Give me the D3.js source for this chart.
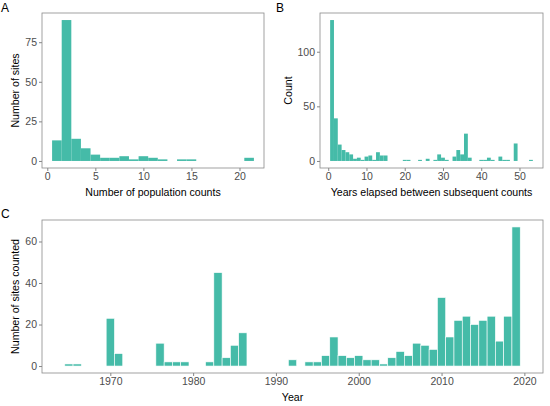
<!DOCTYPE html>
<html><head><meta charset="utf-8">
<script src="https://cdn.jsdelivr.net/npm/d3@7"></script>
<style>body{margin:0;background:#fff}svg{display:block}text{font-family:"Liberation Sans",Arial,sans-serif}</style>
</head><body><svg id="c" width="550" height="406"></svg>
<script>
// Panel A: number of population counts per site
const popCounts = [1,2,3,4,5,6,7,8,9,10,11,12,13,14,15,16,17,18,19,20,21];
const sitesPerCount = [13,89,14,8,4,2,2,3,1,3,2,1,0,1,1,0,0,0,0,0,2];
const ticksA_x = [0,5,10,15,20];
const ticksA_y = [0,25,50,75];
// Panel B: years elapsed between subsequent counts
const yearsElapsed = d3.range(1,54);
const elapsedCount = [129,39,15,10,8,6,2,3,1,4,5,1,8,5,5,0,0,0,0,1,1,0,0,1,0,2,0,1,6,3,1,0,4,10,6,25,3,0,0,1,1,3,1,0,4,1,1,0,16,0,0,0,1];
const ticksB_x = [0,10,20,30,40,50];
const ticksB_y = [0,50,100];
// Panel C: number of sites counted per year
const years = [1965,1966,1970,1971,1976,1977,1978,1979,1982,1983,1984,1985,1986,1992,1994,1995,1996,1997,1998,1999,2000,2001,2002,2003,2004,2005,2006,2007,2008,2009,2010,2011,2012,2013,2014,2015,2016,2017,2018,2019];
const sitesCounted = [1,1,23,6,11,2,2,2,2,45,4,10,16,3,2,2,5,14,5,4,5,3,3,1,4,7,5,11,10,8,33,14,22,24,20,22,24,12,24,67];
const ticksC_x = [1970,1980,1990,2000,2010,2020];
const ticksC_y = [0,20,40,60];

const FILL = "#45BBA8";
const svg = d3.select("#c");

function panel(o){
  const g = svg.append("g");
  const n = o.cats.length;
  const xmin = d3.min(o.cats) - 0.5, xmax = d3.max(o.cats) + 0.5;
  const xp = (xmax - xmin) * 0.05;
  const x = d3.scaleLinear().domain([xmin - xp, xmax + xp]).range([o.x0, o.x1]);
  const ymax = d3.max(o.vals);
  const y = d3.scaleLinear().domain([-ymax*0.05, ymax*1.05]).range([o.y1, o.y0]);
  const data = o.cats.map((c,i)=>({c, v:o.vals[i]}));
  g.selectAll("rect.bar").data(data.filter(d=>d.v>0)).join("rect")
    .attr("x", d=>x(d.c-0.5)).attr("width", d=>x(d.c+0.5)-x(d.c-0.5))
    .attr("y", d=>y(d.v)).attr("height", d=>y(0)-y(d.v))
    .attr("fill", FILL)
    .attr("stroke", o.stroke ? "#fff" : "none").attr("stroke-width", 0.6);
  // axes
  const xa = g.append("g").attr("transform",`translate(0,${o.y1})`)
    .call(d3.axisBottom(x).tickValues(o.tx).tickSize(3).tickPadding(2).tickFormat(d3.format("d")));
  const ya = g.append("g").attr("transform",`translate(${o.x0},0)`)
    .call(d3.axisLeft(y).tickValues(o.ty).tickSize(3).tickPadding(2));
  [xa,ya].forEach(a=>{
    a.select(".domain").remove();
    a.selectAll(".tick line").attr("stroke","#333").attr("stroke-width",0.6);
    a.selectAll(".tick text").attr("fill","#4D4D4D").style("font-size","10.5px");
  });
  // border
  g.append("rect").attr("x",o.x0).attr("y",o.y0).attr("width",o.x1-o.x0).attr("height",o.y1-o.y0)
    .attr("fill","none").attr("stroke","#8a8a8a").attr("stroke-width",0.8);
  // titles
  g.append("text").attr("x",(o.x0+o.x1)/2).attr("y",o.y1+28).attr("text-anchor","middle")
    .style("font-size","10.6px").attr("fill","#000").text(o.xt);
  g.append("text").attr("transform",`translate(${o.ytx},${(o.y0+o.y1)/2}) rotate(-90)`)
    .attr("text-anchor","middle").style("font-size","10.6px").attr("fill","#000").text(o.yt);
  g.append("text").attr("x",o.lx).attr("y",o.ly).style("font-size","12px").attr("fill","#000").text(o.label);
}

panel({cats:popCounts, vals:sitesPerCount, x0:42, x1:264, y0:13, y1:168, tx:ticksA_x, ty:ticksA_y,
  xt:"Number of population counts", yt:"Number of sites", ytx:19, label:"A", lx:1, ly:12});
panel({cats:yearsElapsed, vals:elapsedCount, x0:320, x1:543, y0:13, y1:168, tx:ticksB_x, ty:ticksB_y,
  xt:"Years elapsed between subsequent counts", yt:"Count", ytx:292, label:"B", lx:276, ly:12});
panel({cats:years, vals:sitesCounted, x0:42, x1:543, y0:220, y1:373, tx:ticksC_x, ty:ticksC_y, stroke:true,
  xt:"Year", yt:"Number of sites counted", ytx:19, label:"C", lx:1, ly:218});
</script></body></html>
